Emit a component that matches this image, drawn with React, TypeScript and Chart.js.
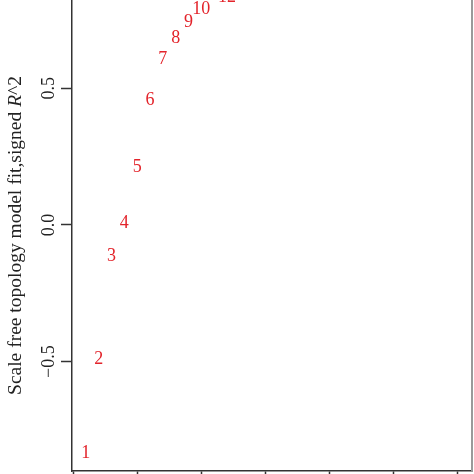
import { useEffect, useRef } from 'react';
import { Chart, registerables, type Plugin } from 'chart.js';

Chart.register(...registerables);

// soft-threshold powers and their signed R^2 (only the visible part of the plot)
const POWERS = [1, 2, 3, 4, 5, 6, 7, 8, 9, 10, 12];
const FIT_R2 = [-0.834, -0.49, -0.113, 0.007, 0.212, 0.457, 0.607, 0.684, 0.743, 0.79, 0.834];
const X_TICKS = [0, 5, 10, 15, 20, 25, 30];
const Y_TICKS = [-0.5, 0, 0.5];
const Y_TITLE = ['Scale free topology model fit,signed ', 'R', '^2'];

const SERIF = '"Liberation Serif", "DejaVu Serif", serif';
const LABEL_SIZE = 18;
const TICK_SIZE = 18;
const TITLE_SIZE = 19.5;

const fmt = (v: number) => (v < 0 ? '\u2212' : '') + Math.abs(v).toFixed(1);

const textPlugin: Plugin = {
  id: 'rStyleText',
  afterDatasetsDraw(chart) {
    const ctx = chart.ctx;
    const meta = chart.getDatasetMeta(0);
    ctx.save();
    ctx.fillStyle = '#e3242b';
    ctx.font = `${LABEL_SIZE}px ${SERIF}`;
    ctx.textAlign = 'center';
    ctx.textBaseline = 'middle';
    meta.data.forEach((pt, i) => ctx.fillText(String(POWERS[i]), pt.x, pt.y));
    ctx.restore();
  },
  afterDraw(chart) {
    const { ctx, chartArea, scales } = chart;
    ctx.save();
    // right side of the box
    ctx.strokeStyle = '#9a9a9a';
    ctx.lineWidth = 2;
    ctx.beginPath();
    ctx.moveTo(chartArea.right, chartArea.top);
    ctx.lineTo(chartArea.right, chartArea.bottom);
    ctx.stroke();

    // y tick labels, parallel to the axis
    ctx.fillStyle = '#222';
    ctx.font = `${TICK_SIZE}px ${SERIF}`;
    ctx.textAlign = 'center';
    ctx.textBaseline = 'alphabetic';
    for (const v of Y_TICKS) {
      const y = scales.y.getPixelForValue(v);
      ctx.save();
      ctx.translate(53.5, y);
      ctx.rotate(-Math.PI / 2);
      ctx.fillText(fmt(v), 0, 0);
      ctx.restore();
    }

    // y title with italic R
    const fonts = [`${TITLE_SIZE}px ${SERIF}`, `italic ${TITLE_SIZE}px ${SERIF}`, `${TITLE_SIZE}px ${SERIF}`];
    const widths = Y_TITLE.map((s, i) => { ctx.font = fonts[i]; return ctx.measureText(s).width; });
    const total = widths.reduce((a, b) => a + b, 0);
    const cy = (chartArea.top + chartArea.bottom) / 2;
    ctx.translate(20.5, cy);
    ctx.rotate(-Math.PI / 2);
    ctx.textAlign = 'left';
    let x = -total / 2;
    Y_TITLE.forEach((s, i) => {
      ctx.font = fonts[i];
      ctx.fillText(s, x, 0);
      x += widths[i];
    });
    ctx.restore();
  },
};

export default function App() {
  const canvasRef = useRef<HTMLCanvasElement>(null);

  useEffect(() => {
    if (!canvasRef.current) return;
    const axisLine = { color: '#333', width: 1.5 };
    const chart = new Chart(canvasRef.current, {
      type: 'scatter',
      data: {
        datasets: [{
          data: POWERS.map((p, i) => ({ x: p, y: FIT_R2[i] })),
          pointRadius: 0,
          showLine: false,
        }],
      },
      options: {
        responsive: false,
        animation: false,
        layout: { padding: { left: 61, top: 30, right: 48, bottom: 18 } },
        plugins: { legend: { display: false }, tooltip: { enabled: false } },
        scales: {
          x: {
            type: 'linear',
            min: -0.08,
            max: 31.1,
            afterBuildTicks: (s) => { s.ticks = X_TICKS.map(v => ({ value: v })); },
            ticks: { display: false },
            border: { display: true, ...axisLine },
            grid: { drawOnChartArea: false, drawTicks: true, tickLength: 11, tickColor: '#333', tickWidth: 1.5 },
          },
          y: {
            type: 'linear',
            min: -0.9,
            max: 0.823,
            afterBuildTicks: (s) => { s.ticks = Y_TICKS.map(v => ({ value: v })); },
            ticks: { display: false },
            border: { display: true, ...axisLine },
            grid: { drawOnChartArea: false, drawTicks: true, tickLength: 11, tickColor: '#333', tickWidth: 1.5 },
          },
        },
      },
      plugins: [textPlugin],
    });
    return () => { chart.destroy(); };
  }, []);

  return (
    <div style={{ position: 'fixed', left: 0, top: 0, width: 474, height: 474, overflow: 'hidden', background: '#fff' }}>
      <canvas ref={canvasRef} width={520} height={530} style={{ position: 'absolute', left: 0, top: -30 }} />
    </div>
  );
}
